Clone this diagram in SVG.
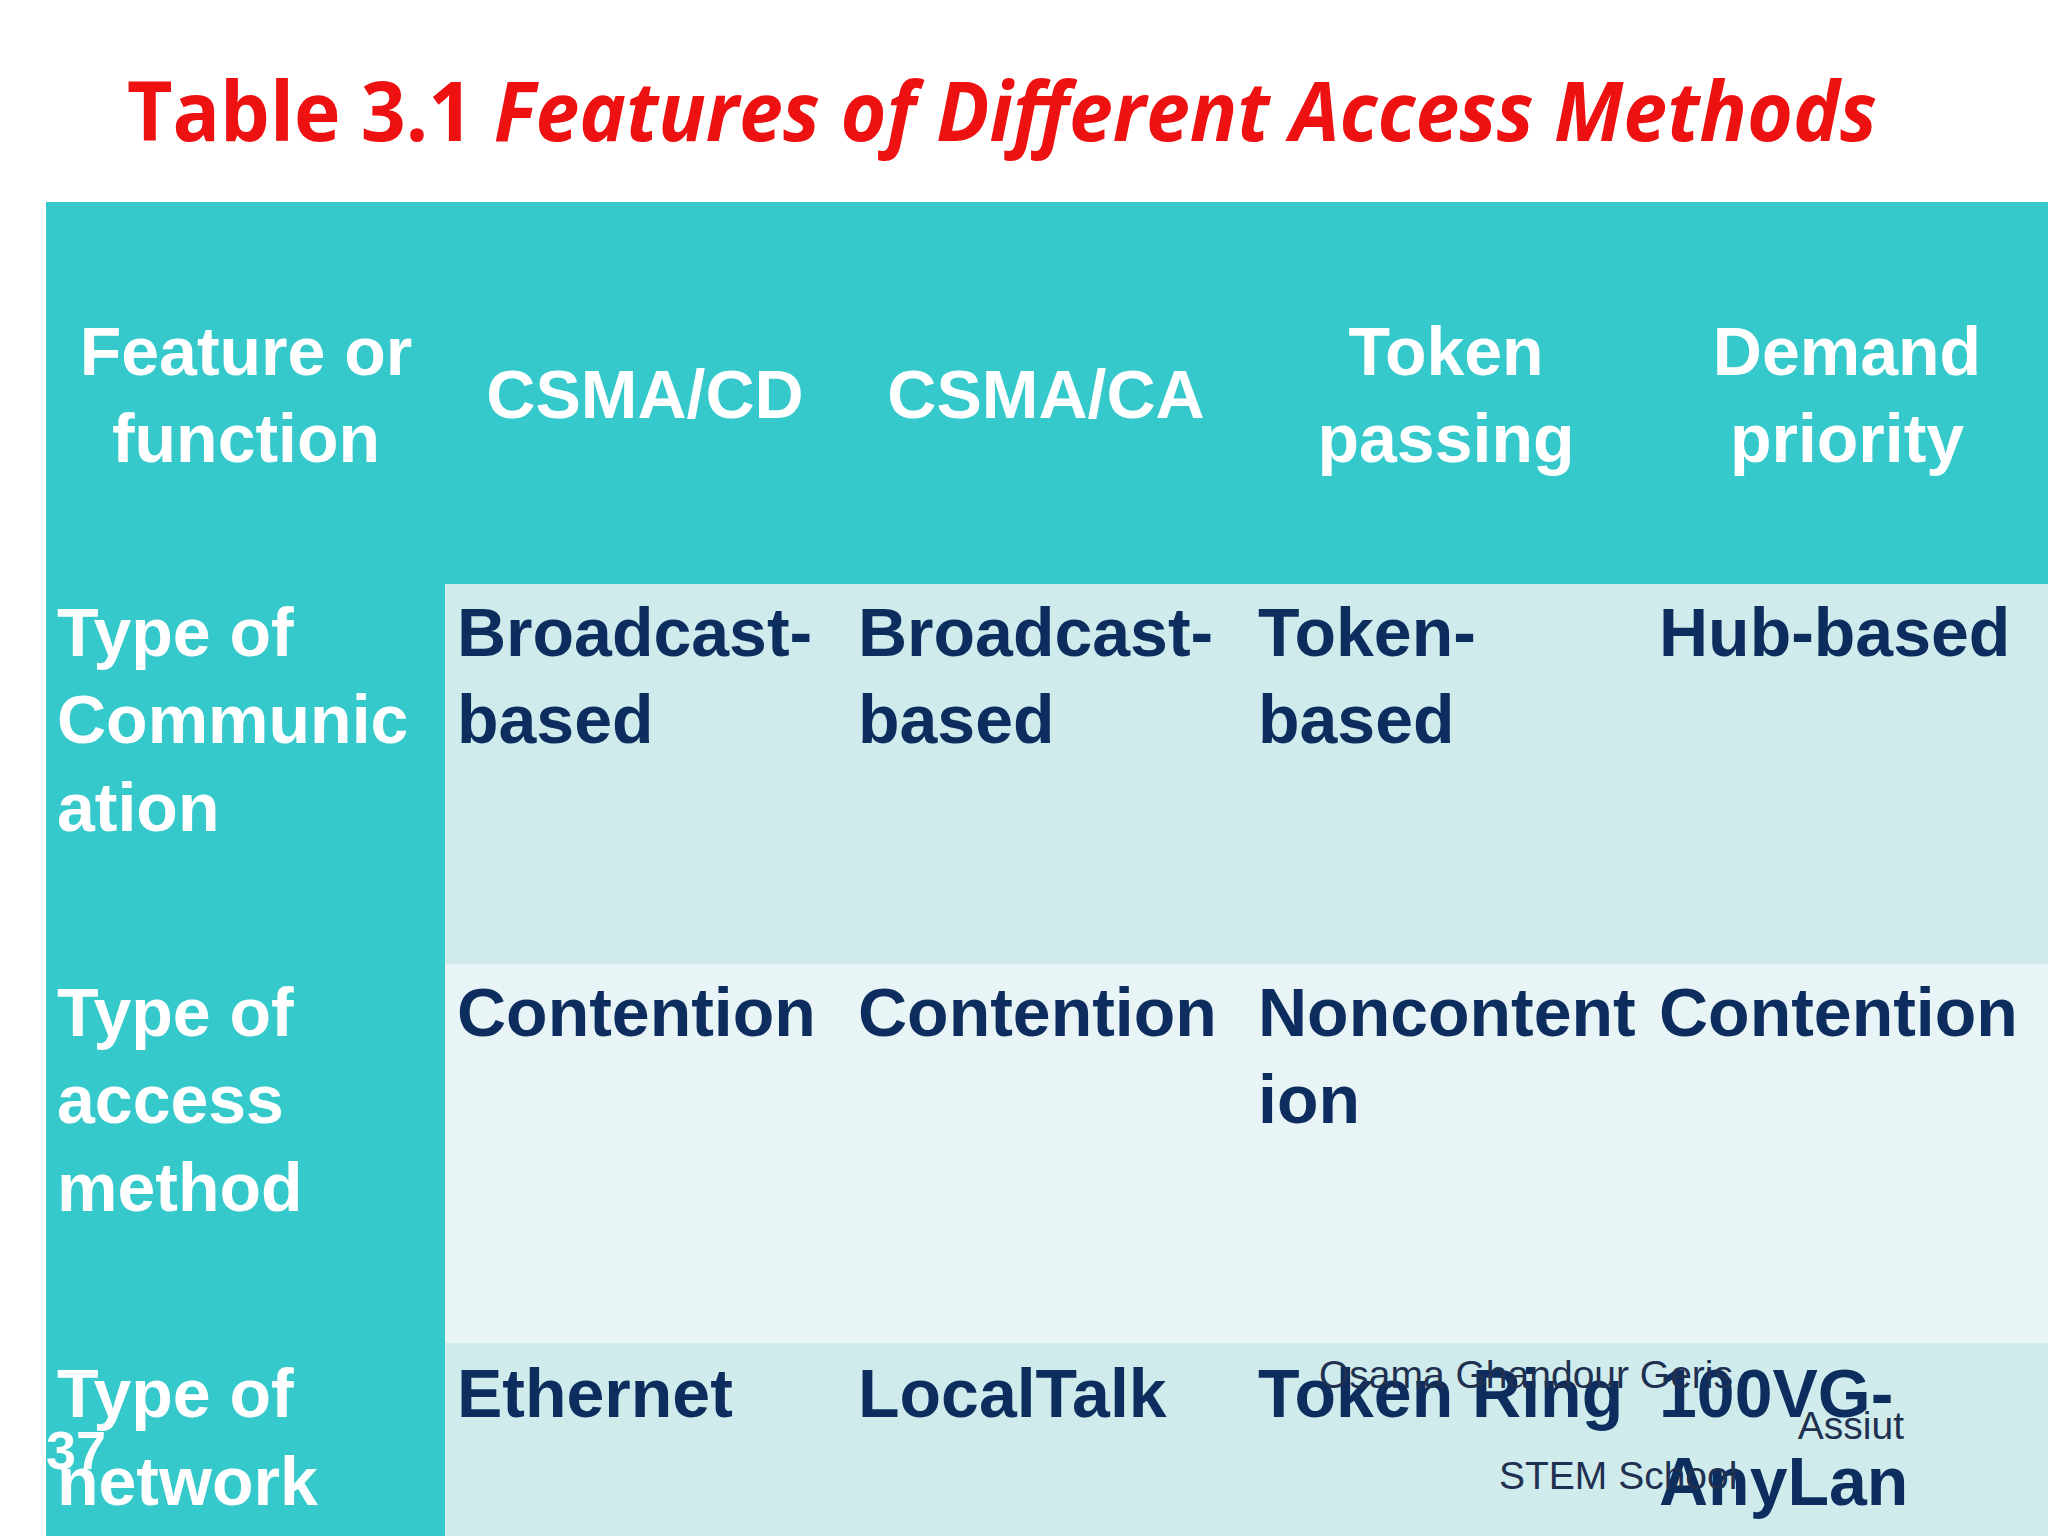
<svg xmlns="http://www.w3.org/2000/svg" width="2048" height="1536" viewBox="0 0 2048 1536">
<style>
.h{font-family:"Liberation Sans",Arial,sans-serif;font-weight:bold;font-size:68px;fill:#fff;text-anchor:middle}
.c{font-family:"Liberation Sans",Arial,sans-serif;font-weight:bold;font-size:68px;fill:#fff}
.b{font-family:"Liberation Sans",Arial,sans-serif;font-weight:bold;font-size:68px;fill:#0C2D5E}
.s{font-family:"Liberation Sans",Arial,sans-serif;font-size:39px;fill:#1F3050}
</style>
<rect width="2048" height="1536" fill="#fff"/>
<text x="127" y="141" font-family="Open Sans,Liberation Sans,sans-serif" font-weight="bold" font-size="82" fill="#EE1111" textLength="1750" lengthAdjust="spacingAndGlyphs">Table 3.1 <tspan font-style="italic">Features of Different Access Methods</tspan></text>
<g id="table">
<rect x="46" y="202" width="2002" height="1334" fill="#35C9CC"/>
<rect x="445" y="584" width="1603" height="380" fill="#CFEBEC"/>
<rect x="445" y="964" width="1603" height="379" fill="#E8F4F5"/>
<rect x="445" y="1343" width="1603" height="193" fill="#CFEBEC"/>
</g>
<g id="header">
<text class="h" x="246" y="375">Feature or</text><text class="h" x="246" y="462">function</text>
<text class="h" x="645" y="418">CSMA/CD</text>
<text class="h" x="1046" y="418">CSMA/CA</text>
<text class="h" x="1446" y="375">Token</text><text class="h" x="1446" y="462">passing</text>
<text class="h" x="1847" y="375">Demand</text><text class="h" x="1847" y="462">priority</text>
</g>
<g id="row1">
<text class="c" x="57" y="656">Type of</text><text class="c" x="57" y="743">Communic</text><text class="c" x="57" y="831">ation</text>
<text class="b" x="457" y="656">Broadcast-</text><text class="b" x="457" y="743">based</text>
<text class="b" x="858" y="656">Broadcast-</text><text class="b" x="858" y="743">based</text>
<text class="b" x="1258" y="656">Token-</text><text class="b" x="1258" y="743">based</text>
<text class="b" x="1659" y="656">Hub-based</text>
</g>
<g id="row2">
<text class="c" x="57" y="1036">Type of</text><text class="c" x="57" y="1123">access</text><text class="c" x="57" y="1211">method</text>
<text class="b" x="457" y="1036">Contention</text>
<text class="b" x="858" y="1036">Contention</text>
<text class="b" x="1258" y="1036">Noncontent</text><text class="b" x="1258" y="1123">ion</text>
<text class="b" x="1659" y="1036">Contention</text>
</g>
<g id="row3">
<text class="c" x="57" y="1417">Type of</text><text class="c" x="57" y="1505">network</text>
<text class="b" x="457" y="1417">Ethernet</text>
<text class="b" x="858" y="1417">LocalTalk</text>
<text class="b" x="1258" y="1417">Token Ring</text>
<text class="b" x="1659" y="1417">100VG-</text><text class="b" x="1659" y="1505">AnyLan</text>
</g>
<g id="footer">
<text x="46" y="1469" font-family="Liberation Sans,sans-serif" font-weight="bold" font-size="54" fill="#fff">37</text>
<text class="s" x="1319" y="1388">Osama Ghandour Geris</text>
<text class="s" x="1904" y="1439" text-anchor="end">Assiut</text>
<text class="s" x="1499" y="1489">STEM School</text>
</g>
</svg>
